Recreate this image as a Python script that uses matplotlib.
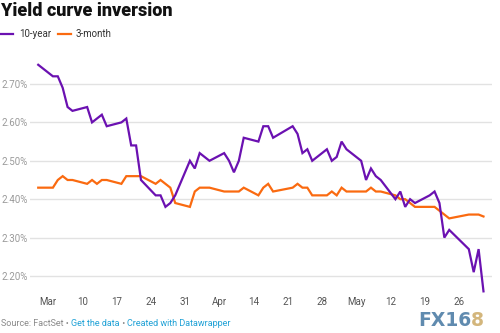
import matplotlib
matplotlib.use("Agg")
import matplotlib.pyplot as plt
import matplotlib.dates as mdates
from matplotlib.lines import Line2D
import datetime as dt

plt.rcParams["font.family"] = ["Roboto", "DejaVu Sans"]

# ---- data ----
dates = ["2019-03-01", "2019-03-04", "2019-03-05", "2019-03-06", "2019-03-07", "2019-03-08",
         "2019-03-11", "2019-03-12", "2019-03-13", "2019-03-14", "2019-03-15",
         "2019-03-18", "2019-03-19", "2019-03-20", "2019-03-21", "2019-03-22",
         "2019-03-25", "2019-03-26", "2019-03-27", "2019-03-28", "2019-03-29",
         "2019-04-01", "2019-04-02", "2019-04-03", "2019-04-04", "2019-04-05",
         "2019-04-08", "2019-04-09", "2019-04-10", "2019-04-11", "2019-04-12",
         "2019-04-15", "2019-04-16", "2019-04-17", "2019-04-18",
         "2019-04-22", "2019-04-23", "2019-04-24", "2019-04-25", "2019-04-26",
         "2019-04-29", "2019-04-30", "2019-05-01", "2019-05-02", "2019-05-03",
         "2019-05-06", "2019-05-07", "2019-05-08", "2019-05-09", "2019-05-10",
         "2019-05-13", "2019-05-14", "2019-05-15", "2019-05-16", "2019-05-17",
         "2019-05-20", "2019-05-21", "2019-05-22", "2019-05-23", "2019-05-24",
         "2019-05-28", "2019-05-29", "2019-05-30", "2019-05-31"]

ten_year = [2.75, 2.72, 2.72, 2.69, 2.64, 2.63,
            2.64, 2.60, 2.61, 2.62, 2.59,
            2.60, 2.61, 2.54, 2.54, 2.45,
            2.41, 2.41, 2.38, 2.39, 2.41,
            2.50, 2.48, 2.52, 2.51, 2.50,
            2.52, 2.50, 2.47, 2.50, 2.56,
            2.55, 2.59, 2.59, 2.56,
            2.59, 2.57, 2.52, 2.53, 2.50,
            2.53, 2.50, 2.51, 2.55, 2.53,
            2.50, 2.45, 2.48, 2.46, 2.45,
            2.40, 2.42, 2.38, 2.40, 2.39,
            2.41, 2.42, 2.39, 2.30, 2.32,
            2.27, 2.21, 2.27, 2.16]

three_month = [2.43, 2.43, 2.45, 2.46, 2.45, 2.45,
               2.44, 2.45, 2.44, 2.45, 2.45,
               2.44, 2.46, 2.46, 2.46, 2.46,
               2.44, 2.45, 2.44, 2.43, 2.39,
               2.38, 2.42, 2.43, 2.43, 2.43,
               2.42, 2.42, 2.42, 2.42, 2.43,
               2.41, 2.43, 2.44, 2.42,
               2.43, 2.44, 2.43, 2.43, 2.41,
               2.41, 2.42, 2.41, 2.43, 2.42,
               2.42, 2.42, 2.43, 2.42, 2.42,
               2.41, 2.40, 2.40, 2.39, 2.38,
               2.38, 2.38, 2.37, 2.36, 2.35,
               2.36, 2.36, 2.36, 2.355]

series_names = ["10-year", "3-month"]

y_ticks = [2.20, 2.30, 2.40, 2.50, 2.60, 2.70]
y_tick_labels = ["2.20%", "2.30%", "2.40%", "2.50%", "2.60%", "2.70%"]

x_tick_dates = ["2019-03-03", "2019-03-10", "2019-03-17", "2019-03-24", "2019-03-31",
                "2019-04-07", "2019-04-14", "2019-04-21", "2019-04-28",
                "2019-05-05", "2019-05-12", "2019-05-19", "2019-05-26"]
x_tick_labels = ["Mar", "10", "17", "24", "31", "Apr", "14", "21", "28",
                 "May", "12", "19", "26"]

# ---- styles ----
PURPLE = "#6b11b1"
ORANGE = "#fa6a10"
W, H = 500, 333

def d2n(s):
    return mdates.date2num(dt.datetime.strptime(s, "%Y-%m-%d"))

x = [d2n(s) for s in dates]

fig = plt.figure(figsize=(W / 100, H / 100), dpi=100)
ax_bottom_px, ax_top_px = 295.2, 57.1
ax = fig.add_axes([30 / W, 1 - ax_bottom_px / H, 462 / W, (ax_bottom_px - ax_top_px) / H])

ax.plot(x, three_month, color=ORANGE, lw=1.6, solid_joinstyle="miter", zorder=3)
ax.plot(x, ten_year, color=PURPLE, lw=1.6, solid_joinstyle="miter", zorder=4)

ref = d2n("2019-03-03")
ax.set_xlim(ref - 3.68, ref + 90.74)
ax.set_ylim(2.15, 2.77)

ax.set_yticks(y_ticks)
ax.set_yticklabels(y_tick_labels)
for lbl in ax.get_yticklabels():
    lbl.set_horizontalalignment("left")
ax.tick_params(axis="y", length=0, pad=20.2, labelsize=7, labelcolor="#9a9a9a")

ax.set_xticks([d2n(s) for s in x_tick_dates])
ax.set_xticklabels(x_tick_labels)
ax.tick_params(axis="x", length=0, pad=1.0, labelsize=7, labelcolor="#555555")

ax.grid(axis="y", color="#e2e2e2", lw=1.0)
ax.set_axisbelow(True)
for sp in ax.spines.values():
    sp.set_visible(False)

# title
fig.text(1 / W, 1 - 16.5 / H, "Yield curve inversion", fontsize=13, fontweight="black",
         color="#111111", va="baseline", ha="left")

# legend
ly = 1 - 34 / H
fig.add_artist(Line2D([0 / W, 13 / W], [ly, ly], color=PURPLE, lw=1.6, transform=fig.transFigure))
fig.text(19 / W, ly, series_names[0], fontsize=7, color="#333333", va="center", ha="left")
fig.add_artist(Line2D([58 / W, 71 / W], [ly, ly], color=ORANGE, lw=1.6, transform=fig.transFigure))
fig.text(76 / W, ly, series_names[1], fontsize=7, color="#333333", va="center", ha="left")

# footer
fy = 1 - 323 / H
t1 = fig.text(1 / W, fy, "Source: FactSet • ", fontsize=6.5, color="#8a8a8a", va="center", ha="left")
a2 = plt.annotate("Get the data", xy=(1, 0), xycoords=t1, va="bottom", ha="left",
                  fontsize=6.5, color="#1fa1d6", annotation_clip=False)
a3 = plt.annotate(" • ", xy=(1, 0), xycoords=a2, va="bottom", ha="left",
                  fontsize=6.5, color="#8a8a8a", annotation_clip=False)
a4 = plt.annotate("Created with Datawrapper", xy=(1, 0), xycoords=a3, va="bottom", ha="left",
                  fontsize=6.5, color="#1fa1d6", annotation_clip=False)

# watermark
wm = fig.text(418 / W, 1 - 320 / H, "FX16", fontsize=13.5, fontweight="bold",
              color="#4f7ea6", va="center", ha="left", family=["DejaVu Sans"], alpha=0.9)
plt.annotate("8", xy=(1, 0), xycoords=wm, va="bottom", ha="left", fontsize=13.5,
             fontweight="bold", color="#cfae6e", family=["DejaVu Sans"], alpha=0.9,
             annotation_clip=False)

fig.savefig("out.png", dpi=100)
